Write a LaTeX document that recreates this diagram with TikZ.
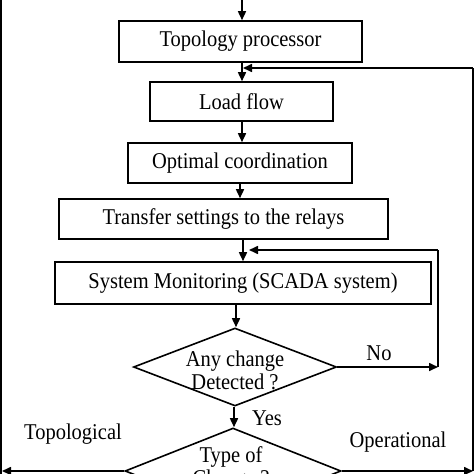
\documentclass[tikz,border=0pt]{standalone}
\usepackage{fontspec}
\usepackage{graphicx}
\setmainfont{Liberation Serif}
\usetikzlibrary{shapes.geometric,arrows.meta}
\newcommand{\stx}[1]{\scalebox{1}[1.1]{#1}}
\begin{document}
\begin{tikzpicture}[x=1pt,y=-1pt,
  every node/.style={font=\fontsize{20.5}{23}\selectfont},
  box/.style={draw,line width=1.6pt,inner sep=0pt,minimum width=#1},
  dia/.style={draw,diamond,line width=1.6pt,inner sep=0pt},
  txt/.style={inner sep=0pt,align=center},
  line/.style={line width=1.6pt},
  arr/.style={line width=1.6pt,-{Triangle[length=9pt,width=8pt]}}]
\useasboundingbox (0,0) rectangle (474,474);
\clip (0,0) rectangle (474,474);
\fill[white] (0,0) rectangle (474,474);
% boxes
\node[box=243pt,minimum height=41pt] (topo) at (240.5,41.5) {\stx{Topology processor}};
\node[box=183pt,minimum height=39pt] (lf) at (241.5,101.5) {\stx{Load flow}};
\node[box=224pt,minimum height=40pt] (opt) at (240,163) {\stx{Optimal coordination}};
\node[box=329pt,minimum height=40pt] (tr) at (223.5,219) {\stx{Transfer settings to the relays}};
\node[box=376pt,minimum height=42pt] (sm) at (243,283) {\stx{System Monitoring (SCADA system)}};
\node[dia,minimum width=203pt,minimum height=78pt] (d1) at (235,367) {};
\node[txt] (d1t) at (235,370) {\stx{Any change}\\\stx{Detected ?}};
\node[dia,minimum width=216pt,minimum height=86pt] (d2) at (233,471) {};
\node[txt] (d2t) at (231,468) {\stx{Type of}\\\stx{Change ?}};
% labels
\node[txt] (no) at (379,353) {\stx{No}};
\node[txt] (yes) at (267,418) {\stx{Yes}};
\node[txt] (topl) at (73,434) {\stx{Topological}};
\node[txt] (opl) at (398,442) {\stx{Operational}};
% coordinates
\coordinate (top) at (242,0);
\coordinate (fb1) at (473,68);
\coordinate (fb1e) at (243,68);
\coordinate (nr) at (438,367);
\coordinate (nu) at (438,250);
\coordinate (ne) at (249,250);
\coordinate (bl) at (2,471);
\coordinate (br) at (473,471);
\coordinate (lb) at (1,474);
\coordinate (lt) at (1,0);
% connectors
\draw[arr] (top) -- (top|-topo.north);
\draw[arr] (topo.south-|242,0) -- (lf.north-|242,0);
\draw[arr] (lf.south-|242,0) -- (opt.north-|242,0);
\draw[arr] (opt.south-|240,0) -- (tr.north-|240,0);
\draw[arr] (tr.south-|243,0) -- (sm.north-|243,0);
\draw[arr] (sm.south-|236,0) -- (d1.north-|236,0);
\draw[arr] (d1.south-|234,0) -- (d2.north-|234,0);
\draw[arr] (d1.east) -- (nr);
\draw[line] (nr) -- (nu);
\draw[arr] (nu) -- (ne);
\draw[arr] (d2.west) -- (bl);
\draw[line] (lb) -- (lt);
\draw[arr] (d2.east) -- (br);
\draw[line] (br) -- (fb1);
\draw[arr] (fb1) -- (fb1e);
\end{tikzpicture}
\end{document}
